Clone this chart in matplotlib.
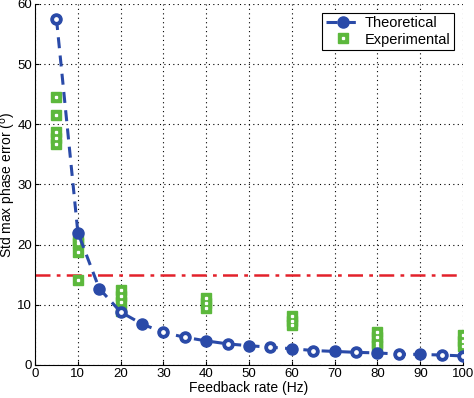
import matplotlib

matplotlib.use("Agg")
import matplotlib.pyplot as plt
from matplotlib.lines import Line2D

plt.rcParams["font.family"] = ["Liberation Sans", "DejaVu Sans"]

# theoretical curve
rate = [5, 10, 15, 20, 25, 30, 35, 40, 45, 50, 55, 60, 65, 70, 75, 80, 85, 90, 95, 100]
theory = [57.5, 22.0, 12.7, 8.8, 6.8, 5.4, 4.6, 4.0, 3.5, 3.2, 2.95, 2.7, 2.4, 2.25, 2.1,
          2.0, 1.8, 1.75, 1.65, 1.5]
# points drawn with a white centre
theory_open = [5, 20, 30, 35, 45, 55, 65, 75, 85, 95, 100]

# experimental runs
exp_rate = [5, 5, 5, 5, 5,
            10, 10, 10, 10,
            20, 20, 20, 20,
            40, 40, 40,
            60, 60, 60,
            80, 80, 80, 80,
            100, 100, 100]
exp_err = [44.5, 41.5, 38.8, 37.7, 36.7,
           20.8, 20.3, 18.7, 14.1,
           12.4, 11.5, 10.5, 9.0,
           11.2, 10.3, 9.5,
           8.2, 7.3, 6.7,
           5.5, 4.6, 3.7, 3.1,
           4.9, 4.0, 3.2]

threshold = 15

blue = "#2a4aa8"
green = "#5cb83c"
red = "#e3212b"

fig = plt.figure(figsize=(4.74, 3.98), dpi=100)
ax = fig.add_axes([0.074, 0.083, 0.903, 0.907])

ax.axhline(threshold, color=red, linewidth=1.8, linestyle=(0, (6, 2.5, 1.5, 2.5)), zorder=2)

ax.plot(exp_rate, exp_err, linestyle="none", marker="s", markersize=7,
        markerfacecolor=green, markeredgecolor=green, zorder=3)
ax.plot(exp_rate, exp_err, linestyle="none", marker="s", markersize=1.4,
        markerfacecolor="white", markeredgecolor="white", zorder=3)

ax.plot(rate, theory, color=blue, linewidth=2.2, linestyle=(0, (3.6, 2.4)),
        marker="o", markersize=8, markerfacecolor=blue, markeredgecolor=blue, zorder=4)
open_y = [t for r, t in zip(rate, theory) if r in theory_open]
ax.plot(theory_open, open_y, linestyle="none", marker="o", markersize=2.4,
        markerfacecolor="white", markeredgecolor="white", zorder=5)

ax.set_xlim(0, 100)
ax.set_ylim(0, 60)
ax.set_xticks(range(0, 101, 10))
ax.set_yticks(range(0, 61, 10))
ax.tick_params(direction="in", labelsize=9.5, length=3, width=0.8, pad=2)
ax.grid(True, color="black", linestyle=(0, (1, 3)), linewidth=0.8)
ax.spines["top"].set_visible(False)
ax.spines["right"].set_visible(False)
ax.set_xlabel("Feedback rate (Hz)", fontsize=10, labelpad=1)
ax.set_ylabel("Std max phase error ($^{\\mathrm{o}}$)", fontsize=10)
ax.yaxis.set_label_coords(-0.04, 0.5)

handles = [
    Line2D([], [], color=blue, linewidth=2.2, linestyle=(0, (3.6, 2.4)), marker="o",
           markersize=8, markerfacecolor=blue, markeredgecolor=blue),
    (Line2D([], [], linestyle="none", marker="s", markersize=7, color=green),
     Line2D([], [], linestyle="none", marker="s", markersize=1.4, color="white")),
]
leg = ax.legend(handles, ["Theoretical", "Experimental"], loc="upper right",
                fontsize=10.5, fancybox=False, framealpha=1, edgecolor="black",
                handlelength=2.4, handletextpad=0.3, borderpad=0.25, labelspacing=0.15,
                borderaxespad=0.6)
leg.get_frame().set_linewidth(0.8)

fig.savefig("out.png", dpi=100)
